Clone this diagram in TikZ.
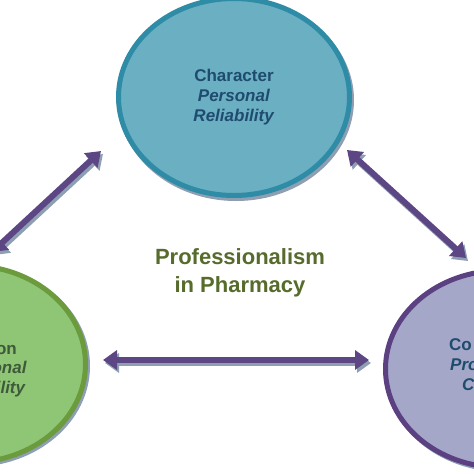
\documentclass[tikz,border=0pt]{standalone}
\usepackage{fontspec}
\setmainfont{Liberation Sans}
\usetikzlibrary{arrows.meta,shapes.geometric}
\definecolor{tealfill}{HTML}{6BAFC3}
\definecolor{tealline}{HTML}{2F8CA6}
\definecolor{greenfill}{HTML}{8FC675}
\definecolor{greenline}{HTML}{6B9B3C}
\definecolor{lavfill}{HTML}{A4A7C8}
\definecolor{lavline}{HTML}{5C4182}
\definecolor{arrowcol}{HTML}{5C4684}
\definecolor{shadowcol}{HTML}{8E9EB3}
\definecolor{navytext}{HTML}{1F4C6E}
\definecolor{greentext}{HTML}{3E5A3A}
\definecolor{titletext}{HTML}{566B2C}
\tikzset{
  blob/.style={ellipse, line width=5pt, minimum width=231pt, minimum height=197pt, inner sep=0pt},
  blobshadow/.style={ellipse, fill=shadowcol, minimum width=236pt, minimum height=202pt, inner sep=0pt},
  label/.style={font=\bfseries\fontsize{17}{20}\selectfont, inner sep=0pt},
  arrowbody/.style={line width=6pt, arrowcol, {Triangle[width=19pt,length=14pt]}-{Triangle[width=19pt,length=14pt]}},
  arrowshadow/.style={line width=6pt, shadowcol, {Triangle[width=19pt,length=14pt]}-{Triangle[width=19pt,length=14pt]}},
}
\begin{document}
\begin{tikzpicture}[x=1pt,y=-1pt]
\useasboundingbox[fill=white] (0,0) rectangle (474,474);
\begin{scope}
\clip (0,0) rectangle (474,474);
% shadows
\node[blobshadow] at (236,100) {};
\node[blobshadow] at (-28,366) {};
\node[blobshadow] at (503,371) {};
% circles
\node[blob, fill=tealfill, draw=tealline] (top) at (234,97) {};
\node[blob, fill=greenfill, draw=greenline] (left) at (-30,364) {};
\node[blob, fill=lavfill, draw=lavline] (right) at (501,369) {};
% arrow end points
\coordinate (a1s) at (-8,252);
\coordinate (a1e) at (101,151);
\coordinate (a2s) at (347,150);
\coordinate (a2e) at (466,258);
\coordinate (a3s) at (103,360);
\coordinate (a3e) at (369,360);
\draw[arrowshadow] ([shift={(2,3)}]a1s) -- ([shift={(2,3)}]a1e);
\draw[arrowshadow] ([shift={(2,3)}]a2s) -- ([shift={(2,3)}]a2e);
\draw[arrowshadow] ([shift={(2,3)}]a3s) -- ([shift={(2,3)}]a3e);
\draw[arrowbody] (a1s) -- (a1e);
\draw[arrowbody] (a2s) -- (a2e);
\draw[arrowbody] (a3s) -- (a3e);
% texts
\node[label, text=navytext, align=center] (toptext) at (top) {Character\\\textit{Personal}\\\textit{Reliability}};
\node[label, text=greentext, anchor=base east] (l1) at (17,354) {on};
\node[label, text=greentext, anchor=base east] (l2) at (27,373) {\textit{onal}};
\node[label, text=greentext, anchor=base east] (l3) at (26,393) {\textit{ility}};
\node[label, text=navytext, anchor=base west] (r1) at (449,350) {Co};
\node[label, text=navytext, anchor=base west] (r2) at (450,370) {\textit{Pro}};
\node[label, text=navytext, anchor=base west] (r3) at (462,390) {\textit{C}};
\node[font=\bfseries\fontsize{22}{28}\selectfont, text=titletext, align=center, inner sep=0pt] (title) at (240,273) {Professionalism\\in Pharmacy};
\end{scope}
\end{tikzpicture}
\end{document}
